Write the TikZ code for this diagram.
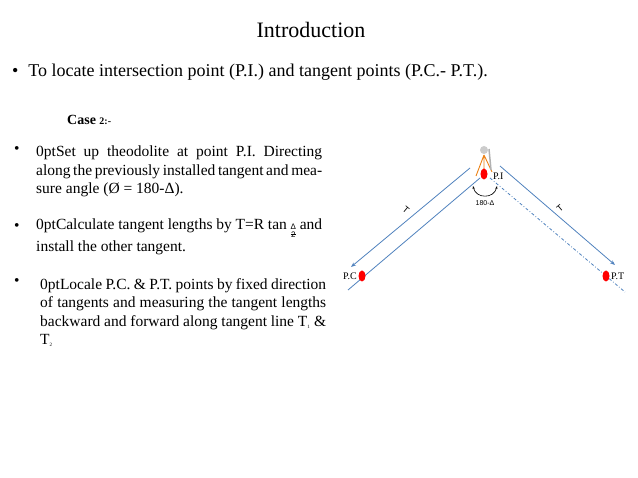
\documentclass[tikz,border=0pt]{standalone}
\usepackage{fontspec}
\setmainfont{Liberation Serif}
\newfontfamily\sansf{Liberation Sans}
\usetikzlibrary{arrows.meta,shapes.geometric}
\definecolor{lblue}{HTML}{4F81BD}
\begin{document}
\begin{tikzpicture}[x=1pt,y=-1pt,
  txt/.style={anchor=north west,inner sep=0pt,text width=286pt,align=justify,font=\fontsize{15.5}{18.5}\selectfont\hyphenpenalty=10000\exhyphenpenalty=10000},
  bul/.style={anchor=north west,inner sep=0pt,font=\fontsize{15.5}{18.5}\selectfont},
  ln/.style={draw=lblue,line width=0.8pt},
  dot/.style={ellipse,fill=red,minimum width=7pt,minimum height=11pt,inner sep=0pt}]
\useasboundingbox (0,0) rectangle (638,478);
\node (title) at (311,30) {\fontsize{22}{26}\selectfont Introduction};
\node[anchor=west,inner sep=0pt] (b0) at (12,72) {\fontsize{18}{22}\selectfont •\hspace{10pt}To locate intersection point (P.I.) and tangent points (P.C.- P.T.).};
\node[anchor=west,inner sep=0pt] (case) at (67,120) {\fontsize{14}{16}\selectfont\bfseries Case \fontsize{10}{12}\selectfont 2:-};
\node[bul] (d1) at (14,146) {•};
\node[txt] (t1) at (36,146) {Set up theodolite at point P.I. Directing along the previously installed tangent and measure angle (Ø = 180-Δ).};
\node[bul] (d2) at (14,223) {•};
\node[txt] (t2) at (36,219) {Calculate tangent lengths by T=R tan \raisebox{-4pt}{\sansf\fontsize{8}{7}\selectfont\begin{tabular}{@{}c@{}}Δ\\[-2pt]\rule{5pt}{0.4pt}\\[-4pt]2\end{tabular}} and install the other tangent.};
\node[bul] (d3) at (14,278) {•};
\node[txt] (t3) at (40,278) {Locale P.C. \& P.T. points by fixed direction of tangents and measuring the tangent lengths backward and forward along tangent line T\textsubscript{\tiny 1} \& T\textsubscript{\tiny 2}};
% diagram
\coordinate (a1) at (348,290); \coordinate (a2) at (480,178);
\coordinate (o1) at (470,168); \coordinate (o2) at (351,267);
\coordinate (r1) at (490,178); \coordinate (r2) at (625,292);
\coordinate (s1) at (500,166); \coordinate (s2) at (615,265);
\draw[ln] (a1) -- (a2);
\draw[ln,-{Stealth[length=5pt]}] (o1) -- (o2);
\draw[ln,dash dot] (r1) -- (r2);
\draw[ln,-{Stealth[length=5pt]}] (s1) -- (s2);
\node[rotate=-40,font=\sansf\small] (tl) at (406,210) {T};
\node[rotate=40,font=\sansf\small] (tr) at (560,208) {T};
% theodolite
\draw[orange!70!brown,line width=0.9pt] (484,155) -- (476,176) (484,155) -- (484,174) (484,155) -- (492,172);
\fill[gray!40] (484,150) circle (4pt);
\draw[gray!60,line width=1.5pt] (489,149) -- (491,170);
\node[dot] (pi) at (484,174) {};
\node[dot] (pc) at (362,276) {};
\node[dot] (pt) at (606,276) {};
\node[anchor=west,inner sep=1pt,font=\fontsize{10}{12}\selectfont] (lpi) at (492,176) {P.I};
\node[anchor=east,inner sep=1pt,font=\fontsize{10}{12}\selectfont] (lpc) at (358,276) {P.C};
\node[anchor=west,inner sep=1pt,font=\fontsize{10}{12}\selectfont] (lpt) at (610,276) {P.T};
\draw[{Stealth[length=3pt]}-{Stealth[length=3pt]},line width=0.6pt] (473,186) .. controls (476,199) and (494,199) .. (497,186);
\node[font=\sansf\fontsize{7}{8}\selectfont] (ang) at (485,203) {180-Δ};
\end{tikzpicture}
\end{document}
